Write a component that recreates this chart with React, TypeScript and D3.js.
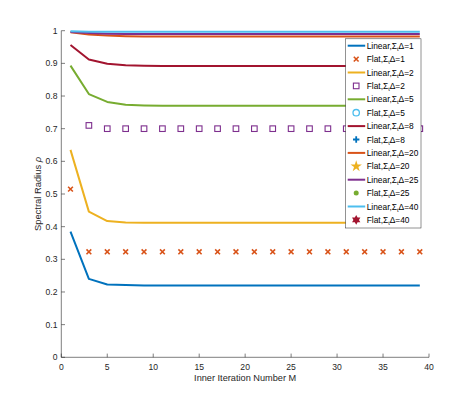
import React from 'react';
import * as d3 from 'd3';

// inner iteration counts (odd M)
const iterations = [1, 3, 5, 7, 9, 11, 13, 15, 17, 19, 21, 23, 25, 27, 29, 31, 33, 35, 37, 39];

// spectral radius
const linear1 = [0.385, 0.240, 0.223, 0.221, 0.220, 0.220, 0.220, 0.220, 0.220, 0.220, 0.220, 0.220, 0.220, 0.220, 0.220, 0.220, 0.220, 0.220, 0.220, 0.220];
const flat1 = [0.515, 0.323, 0.323, 0.323, 0.323, 0.323, 0.323, 0.323, 0.323, 0.323, 0.323, 0.323, 0.323, 0.323, 0.323, 0.323, 0.323, 0.323, 0.323, 0.323];
const linear2 = [0.635, 0.446, 0.417, 0.413, 0.412, 0.412, 0.412, 0.412, 0.412, 0.412, 0.412, 0.412, 0.412, 0.412, 0.412, 0.412, 0.412, 0.412, 0.412, 0.412];
const flat2 = [null, 0.710, 0.700, 0.700, 0.700, 0.700, 0.700, 0.700, 0.700, 0.700, 0.700, 0.700, 0.700, 0.700, 0.700, 0.700, 0.700, 0.700, 0.700, 0.700];
const linear5 = [0.893, 0.806, 0.782, 0.773, 0.771, 0.770, 0.770, 0.770, 0.770, 0.770, 0.770, 0.770, 0.770, 0.770, 0.770, 0.770, 0.770, 0.770, 0.770, 0.770];
const flat5: (number | null)[] = [];
const linear8 = [0.956, 0.912, 0.899, 0.894, 0.893, 0.892, 0.892, 0.892, 0.892, 0.892, 0.892, 0.892, 0.892, 0.892, 0.892, 0.892, 0.892, 0.892, 0.892, 0.892];
const flat8: (number | null)[] = [];
const linear20 = [0.995, 0.988, 0.985, 0.983, 0.982, 0.982, 0.982, 0.982, 0.982, 0.982, 0.982, 0.982, 0.982, 0.982, 0.982, 0.982, 0.982, 0.982, 0.982, 0.982];
const flat20: (number | null)[] = [];
const linear25 = [0.996, 0.993, 0.991, 0.990, 0.990, 0.990, 0.990, 0.990, 0.990, 0.990, 0.990, 0.990, 0.990, 0.990, 0.990, 0.990, 0.990, 0.990, 0.990, 0.990];
const flat25: (number | null)[] = [];
const linear40 = [0.998, 0.997, 0.997, 0.997, 0.997, 0.997, 0.997, 0.997, 0.997, 0.997, 0.997, 0.997, 0.997, 0.997, 0.997, 0.997, 0.997, 0.997, 0.997, 0.997];
const flat40: (number | null)[] = [];

const xTicks = [0, 5, 10, 15, 20, 25, 30, 35, 40];
const yTicks = [0, 0.1, 0.2, 0.3, 0.4, 0.5, 0.6, 0.7, 0.8, 0.9, 1];

const series = [
  { name: 'Linear', delta: 1, kind: 'line', color: '#0072BD', values: linear1 },
  { name: 'Flat', delta: 1, kind: 'times', color: '#D95319', values: flat1 },
  { name: 'Linear', delta: 2, kind: 'line', color: '#EDB120', values: linear2 },
  { name: 'Flat', delta: 2, kind: 'square', color: '#7E2F8E', values: flat2 },
  { name: 'Linear', delta: 5, kind: 'line', color: '#77AC30', values: linear5 },
  { name: 'Flat', delta: 5, kind: 'circle', color: '#4DBEEE', values: flat5 },
  { name: 'Linear', delta: 8, kind: 'line', color: '#A2142F', values: linear8 },
  { name: 'Flat', delta: 8, kind: 'plus', color: '#0072BD', values: flat8 },
  { name: 'Linear', delta: 20, kind: 'line', color: '#D95319', values: linear20 },
  { name: 'Flat', delta: 20, kind: 'star', color: '#EDB120', values: flat20 },
  { name: 'Linear', delta: 25, kind: 'line', color: '#7E2F8E', values: linear25 },
  { name: 'Flat', delta: 25, kind: 'dot', color: '#77AC30', values: flat25 },
  { name: 'Linear', delta: 40, kind: 'line', color: '#4DBEEE', values: linear40 },
  { name: 'Flat', delta: 40, kind: 'hexagram', color: '#A2142F', values: flat40 },
];

const W = 474, H = 402;
const margin = { left: 61.3, right: 45, top: 30.7, bottom: 44.7 };
const FONT = '"Liberation Sans", Arial, Helvetica, sans-serif';
const AXIS = '#262626';

const hexagram = (r: number) => {
  const p = d3.path();
  for (let i = 0; i < 12; i++) {
    const a = -Math.PI / 2 + (i * Math.PI) / 6;
    const rr = i % 2 === 0 ? r : r * 0.577;
    const px = rr * Math.cos(a), py = rr * Math.sin(a);
    if (i === 0) p.moveTo(px, py); else p.lineTo(px, py);
  }
  p.closePath();
  return p.toString();
};

const Marker = ({ kind, color, x, y }: any) => {
  const t = `translate(${x},${y})`;
  switch (kind) {
    case 'times':
      return <path transform={t} d="M-2.4,-2.4L2.4,2.4M-2.4,2.4L2.4,-2.4" stroke={color} strokeWidth={1.6} fill="none" />;
    case 'square':
      return <rect x={x - 2.8} y={y - 2.8} width={5.6} height={5.6} stroke={color} strokeWidth={1.1} fill="none" />;
    case 'circle':
      return <circle cx={x} cy={y} r={3.2} stroke={color} strokeWidth={1.3} fill="none" />;
    case 'plus':
      return <path transform={t} d="M-3.2,0L3.2,0M0,-3.2L0,3.2" stroke={color} strokeWidth={1.8} fill="none" />;
    case 'star':
      return <path transform={t} d={d3.symbol(d3.symbolStar, 40)()!} fill={color} />;
    case 'dot':
      return <circle cx={x} cy={y} r={2.5} fill={color} />;
    case 'hexagram':
      return <path transform={t} d={hexagram(4.8)} fill={color} />;
    default:
      return null;
  }
};

export default function App() {
  const x = d3.scaleLinear().domain([0, 40]).range([margin.left, W - margin.right]);
  const y = d3.scaleLinear().domain([0, 1]).range([H - margin.bottom, margin.top]);
  const line = d3.line<[number, number | null]>()
    .defined((d) => d[1] != null)
    .x((d) => x(d[0]))
    .y((d) => y(d[1] as number));

  const x0 = x.range()[0], x1 = x.range()[1];
  const y0 = y.range()[0], y1 = y.range()[1];

  // legend box
  const lg = { left: 345.7, top: 38.8, width: 75.3, height: 189.2, row: 13.4, first: 45.7 };

  return (
    <svg width={W} height={H} style={{ position: 'absolute', left: 0, top: 0, background: '#fff' }} fontFamily={FONT}>
      <rect width={W} height={H} fill="#fff" />

      {/* data */}
      {series.map((s, i) => {
        const pts = iterations.map((it, j) => [it, s.values[j] ?? null] as [number, number | null]);
        if (s.kind === 'line') {
          return <path key={i} d={line(pts)!} fill="none" stroke={s.color} strokeWidth={2} strokeLinejoin="round" />;
        }
        return (
          <g key={i}>
            {pts.filter((p) => p[1] != null).map((p, j) => (
              <Marker key={j} kind={s.kind} color={s.color} x={x(p[0])} y={y(p[1] as number)} />
            ))}
          </g>
        );
      })}

      {/* axes */}
      <g stroke={AXIS} strokeWidth={0.6} fill="none">
        <line x1={x0} x2={x1} y1={y0} y2={y0} />
        <line x1={x0} x2={x0} y1={y0} y2={y1} />
        {xTicks.map((t) => <line key={t} x1={x(t)} x2={x(t)} y1={y0} y2={y0 - 3.7} />)}
        {yTicks.map((t) => <line key={t} x1={x0} x2={x0 + 3.7} y1={y(t)} y2={y(t)} />)}
      </g>
      <g fill={AXIS} fontSize={8.6}>
        {xTicks.map((t) => (
          <text key={t} x={x(t)} y={y0 + 12.5} textAnchor="middle">{t}</text>
        ))}
        {yTicks.map((t) => (
          <text key={t} x={x0 - 3.8} y={y(t) + 3} textAnchor="end">{t === 0 || t === 1 ? t : t.toFixed(1)}</text>
        ))}
      </g>
      <text x={(x0 + x1) / 2} y={y0 + 24} textAnchor="middle" fontSize={9.2} fill={AXIS}>Inner Iteration Number M</text>
      <text transform={`translate(${x0 - 20.5},${(y0 + y1) / 2}) rotate(-90)`} textAnchor="middle" fontSize={9.4} fill={AXIS}>
        Spectral Radius <tspan fontStyle="italic">ρ</tspan>
      </text>

      {/* legend */}
      <rect x={lg.left} y={lg.top} width={lg.width} height={lg.height} fill="#fff" stroke="#262626" strokeWidth={0.5} />
      {series.map((s, i) => {
        const cy = lg.first + i * lg.row;
        return (
          <g key={i}>
            {s.kind === 'line'
              ? <line x1={lg.left + 2} x2={lg.left + 19.5} y1={cy} y2={cy} stroke={s.color} strokeWidth={2} />
              : <Marker kind={s.kind} color={s.color} x={lg.left + 10.5} y={cy} />}
            <text x={lg.left + 21} y={cy + 3} fontSize={8.4} fill="#000">
              {s.name},Σ<tspan fontSize={5.5} dy={2}>t</tspan><tspan dy={-2}>Δ={s.delta}</tspan>
            </text>
          </g>
        );
      })}
    </svg>
  );
}
